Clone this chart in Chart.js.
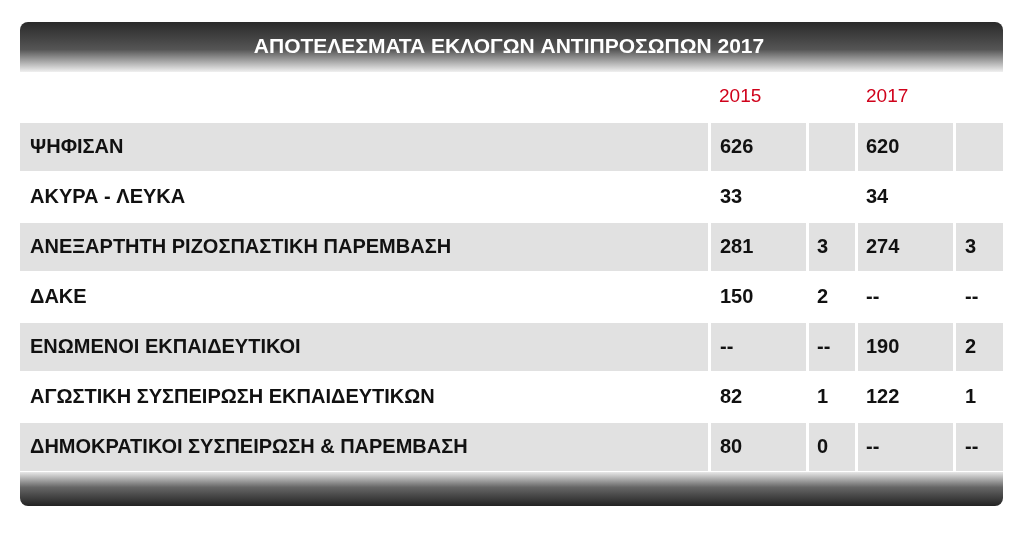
<!DOCTYPE html>
<html><head><meta charset="utf-8">
<script src="https://cdn.jsdelivr.net/npm/chart.js@4"></script>
<style>html,body{margin:0;padding:0;background:#fff}#w{width:1024px;height:535px}</style>
</head><body><div id="w"><canvas id="c"></canvas></div>
<script>
const title = 'ΑΠΟΤΕΛΕΣΜΑΤΑ ΕΚΛΟΓΩΝ ΑΝΤΙΠΡΟΣΩΠΩΝ 2017';
const years = ['2015', '2017'];
const rowLabels = ['ΨΗΦΙΣΑΝ','ΑΚΥΡΑ - ΛΕΥΚΑ','ΑΝΕΞΑΡΤΗΤΗ ΡΙΖΟΣΠΑΣΤΙΚΗ ΠΑΡΕΜΒΑΣΗ','ΔΑΚΕ','ΕΝΩΜΕΝΟΙ ΕΚΠΑΙΔΕΥΤΙΚΟΙ','ΑΓΩΣΤΙΚΗ ΣΥΣΠΕΙΡΩΣΗ ΕΚΠΑΙΔΕΥΤΙΚΩΝ','ΔΗΜΟΚΡΑΤΙΚΟΙ ΣΥΣΠΕΙΡΩΣΗ & ΠΑΡΕΜΒΑΣΗ'];
const votes2015 = ['626','33','281','150','--','82','80'];
const seats2015 = ['','','3','2','--','1','0'];
const votes2017 = ['620','34','274','--','190','122','--'];
const seats2017 = ['','','3','--','2','1','--'];

const cats = ['head','years', ...rowLabels];
const colStart = [20,711,809,858,956], colEnd = [708,806,855,953,1003];
const grayRow = i => i % 2 === 0;
const datasets = colStart.map((s,ci)=>({
  data: cats.map((c,i)=> (i>=2 && grayRow(i-2)) ? [s, colEnd[ci]] : null),
  backgroundColor:'#e1e1e1', barPercentage:1, categoryPercentage:0.96, borderSkipped:false,
  grouped:false
}));

function grad(ctx, y0, y1, up){
  const g = ctx.createLinearGradient(0,y0,0,y1);
  if(up){g.addColorStop(0,'#2a2a2a');g.addColorStop(0.55,'#555');g.addColorStop(1,'#f0f0f0');}
  else {g.addColorStop(0,'#e8e8e8');g.addColorStop(0.45,'#666');g.addColorStop(1,'#222');}
  return g;
}
const tablePlugin = {
  id:'tbl',
  beforeDatasetsDraw(ch){
    const ctx = ch.ctx, y = ch.scales.y, x = ch.scales.x;
    const h = y.getPixelForValue(1)-y.getPixelForValue(0);
    const top = y.getPixelForValue(0)-h/2, hb = top+h;
    const L = x.getPixelForValue(20), R = x.getPixelForValue(1003);
    const fb = ch.chartArea.bottom, fe = fb+34;
    ctx.save();
    ctx.fillStyle = grad(ctx, top, hb, true);
    ctx.beginPath(); ctx.roundRect(L, top, R-L, hb-top, [8,8,0,0]); ctx.fill();
    ctx.fillStyle = grad(ctx, fb, fe, false);
    ctx.beginPath(); ctx.roundRect(L, fb, R-L, fe-fb, [0,0,8,8]); ctx.fill();
    ctx.restore();
  },
  afterDatasetsDraw(ch){
    const ctx = ch.ctx, y = ch.scales.y, x = ch.scales.x;
    ctx.save();
    ctx.textBaseline='middle';
    ctx.fillStyle='#fff'; ctx.textAlign='center';
    ctx.font='bold 21px "Liberation Sans"';
    ctx.fillText(title, x.getPixelForValue(509), y.getPixelForValue(0));
    ctx.textAlign='left';
    ctx.fillStyle='#d0021b'; ctx.font='19px "Liberation Sans"';
    ctx.fillText(years[0], x.getPixelForValue(719), y.getPixelForValue(1));
    ctx.fillText(years[1], x.getPixelForValue(866), y.getPixelForValue(1));
    ctx.fillStyle='#111'; ctx.font='bold 20px "Liberation Sans"';
    const cols = [rowLabels, votes2015, seats2015, votes2017, seats2017];
    const tx = [30,720,817,866,965];
    rowLabels.forEach((r,i)=>{
      const py = y.getPixelForValue(i+2);
      cols.forEach((c,ci)=>ctx.fillText(c[i], x.getPixelForValue(tx[ci]), py));
    });
    ctx.restore();
  }
};
new Chart(document.getElementById('c'), {
  type:'bar',
  data:{labels:cats, datasets},
  options:{
    indexAxis:'y', responsive:true, maintainAspectRatio:false, animation:false,
    layout:{padding:{top:22,bottom:63,left:0,right:0}},
    plugins:{legend:{display:false}, tooltip:{enabled:false}},
    scales:{
      x:{type:'linear',min:0,max:1024,display:false},
      y:{type:'category',display:false,offset:true}
    }
  },
  plugins:[tablePlugin]
});
</script></body></html>
